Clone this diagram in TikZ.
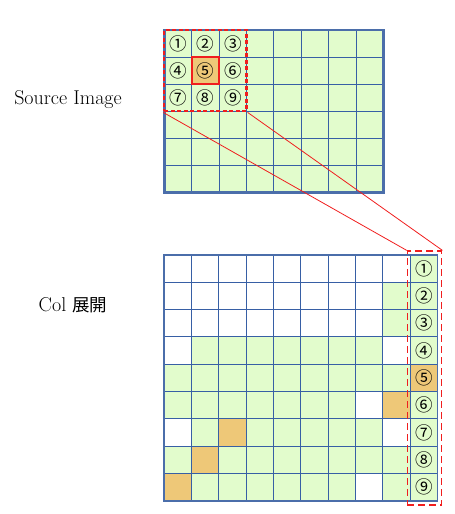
\documentclass[tikz,border=0pt]{standalone}
\usepackage{fontspec}
\newfontfamily\cjk{Noto Sans CJK JP}
\definecolor{cgreen}{RGB}{226,252,204}
\definecolor{corange}{RGB}{238,200,120}
\definecolor{cblue}{RGB}{55,95,165}
\definecolor{cborder}{RGB}{75,110,170}
\definecolor{cred}{RGB}{240,30,30}
\tikzset{
  gridline/.style={draw=cblue, line width=1pt},
  outerA/.style={draw=cborder, line width=2.4pt},
  outerB/.style={draw=cborder, line width=1.4pt},
  num/.style={font=\cjk\fontsize{17.5}{17.5}\selectfont, inner sep=0pt},
  lbl/.style={font=\fontsize{20}{22}\selectfont, inner sep=0pt},
  winA/.style={draw=cred, line width=2.2pt, dash pattern=on 4pt off 2.5pt, inner sep=0pt, rectangle},
  winB/.style={draw=cred, line width=1.2pt, dash pattern=on 7pt off 4pt, inner sep=0pt, rectangle},
  link/.style={draw=cred, line width=0.8pt}
}
\begin{document}
\begin{tikzpicture}[x=1pt,y=-1pt]
\useasboundingbox (0,0) rectangle (455,514);
% ---------- Source image grid (8 x 6) ----------
\def\ax{164.3}\def\ay{30}\def\aw{27.4}\def\ah{27.1}
\fill[cgreen] (\ax,\ay) rectangle ({\ax+8*\aw},{\ay+6*\ah});
\fill[corange] ({\ax+\aw},{\ay+\ah}) rectangle ({\ax+2*\aw},{\ay+2*\ah});
\foreach \i in {1,...,7} \draw[gridline] ({\ax+\i*\aw},\ay) -- ({\ax+\i*\aw},{\ay+6*\ah});
\foreach \j in {1,...,5} \draw[gridline] (\ax,{\ay+\j*\ah}) -- ({\ax+8*\aw},{\ay+\j*\ah});
\draw[outerA] (\ax,\ay) rectangle ({\ax+8*\aw},{\ay+6*\ah});
\draw[cred, line width=2pt] ({\ax+\aw},{\ay+\ah}) rectangle ({\ax+2*\aw},{\ay+2*\ah});
\foreach \n/\c/\r in {①/0/0,②/1/0,③/2/0,④/0/1,⑤/1/1,⑥/2/1,⑦/0/2,⑧/1/2,⑨/2/2}
  \node[num] (s\r\c) at ({\ax+(\c+0.5)*\aw},{\ay+(\r+0.5)*\ah}) {\n};
\node[winA, minimum width=82.2pt, minimum height=81.3pt] (srcwin) at ({\ax+1.5*\aw},{\ay+1.5*\ah}) {};
\node[lbl] (srclbl) at (68,100) {Source Image};
% ---------- Col expansion grid (10 x 9) ----------
\def\bx{164}\def\by{255}\def\bw{27.37}\def\bh{27.33}
\fill[cgreen] (\bx,\by) rectangle ({\bx+10*\bw},{\by+9*\bh});
\foreach \r/\c in {0/0,0/1,0/2,0/3,0/4,0/5,0/6,0/7,0/8,
                   1/0,1/1,1/2,1/3,1/4,1/5,1/6,1/7,
                   2/0,2/1,2/2,2/3,2/4,2/5,2/6,2/7,
                   3/0,3/8,5/7,6/0,6/8,8/7}
  \fill[white] ({\bx+\c*\bw},{\by+\r*\bh}) rectangle ++(\bw,\bh);
\foreach \r/\c in {4/9,5/8,6/2,7/1,8/0}
  \fill[corange] ({\bx+\c*\bw},{\by+\r*\bh}) rectangle ++(\bw,\bh);
\foreach \i in {1,...,9} \draw[gridline] ({\bx+\i*\bw},\by) -- ({\bx+\i*\bw},{\by+9*\bh});
\foreach \j in {1,...,8} \draw[gridline] (\bx,{\by+\j*\bh}) -- ({\bx+10*\bw},{\by+\j*\bh});
\draw[outerB] (\bx,\by) rectangle ({\bx+10*\bw},{\by+9*\bh});
\foreach \n/\r in {①/0,②/1,③/2,④/3,⑤/4,⑥/5,⑦/6,⑧/7,⑨/8}
  \node[num] (c\r) at ({\bx+9.5*\bw},{\by+(\r+0.5)*\bh}) {\n};
\node[winB, minimum width=34.5pt, minimum height=254pt] (colwin) at (424.6,378) {};
\node[lbl] (collbl) at (73,305) {Col {\cjk\fontsize{17.5}{20}\selectfont 展開}};
% ---------- connectors ----------
\draw[link] (srcwin.south west) -- (colwin.north west);
\draw[link] (srcwin.south east) -- (colwin.north east);
\end{tikzpicture}
\end{document}
